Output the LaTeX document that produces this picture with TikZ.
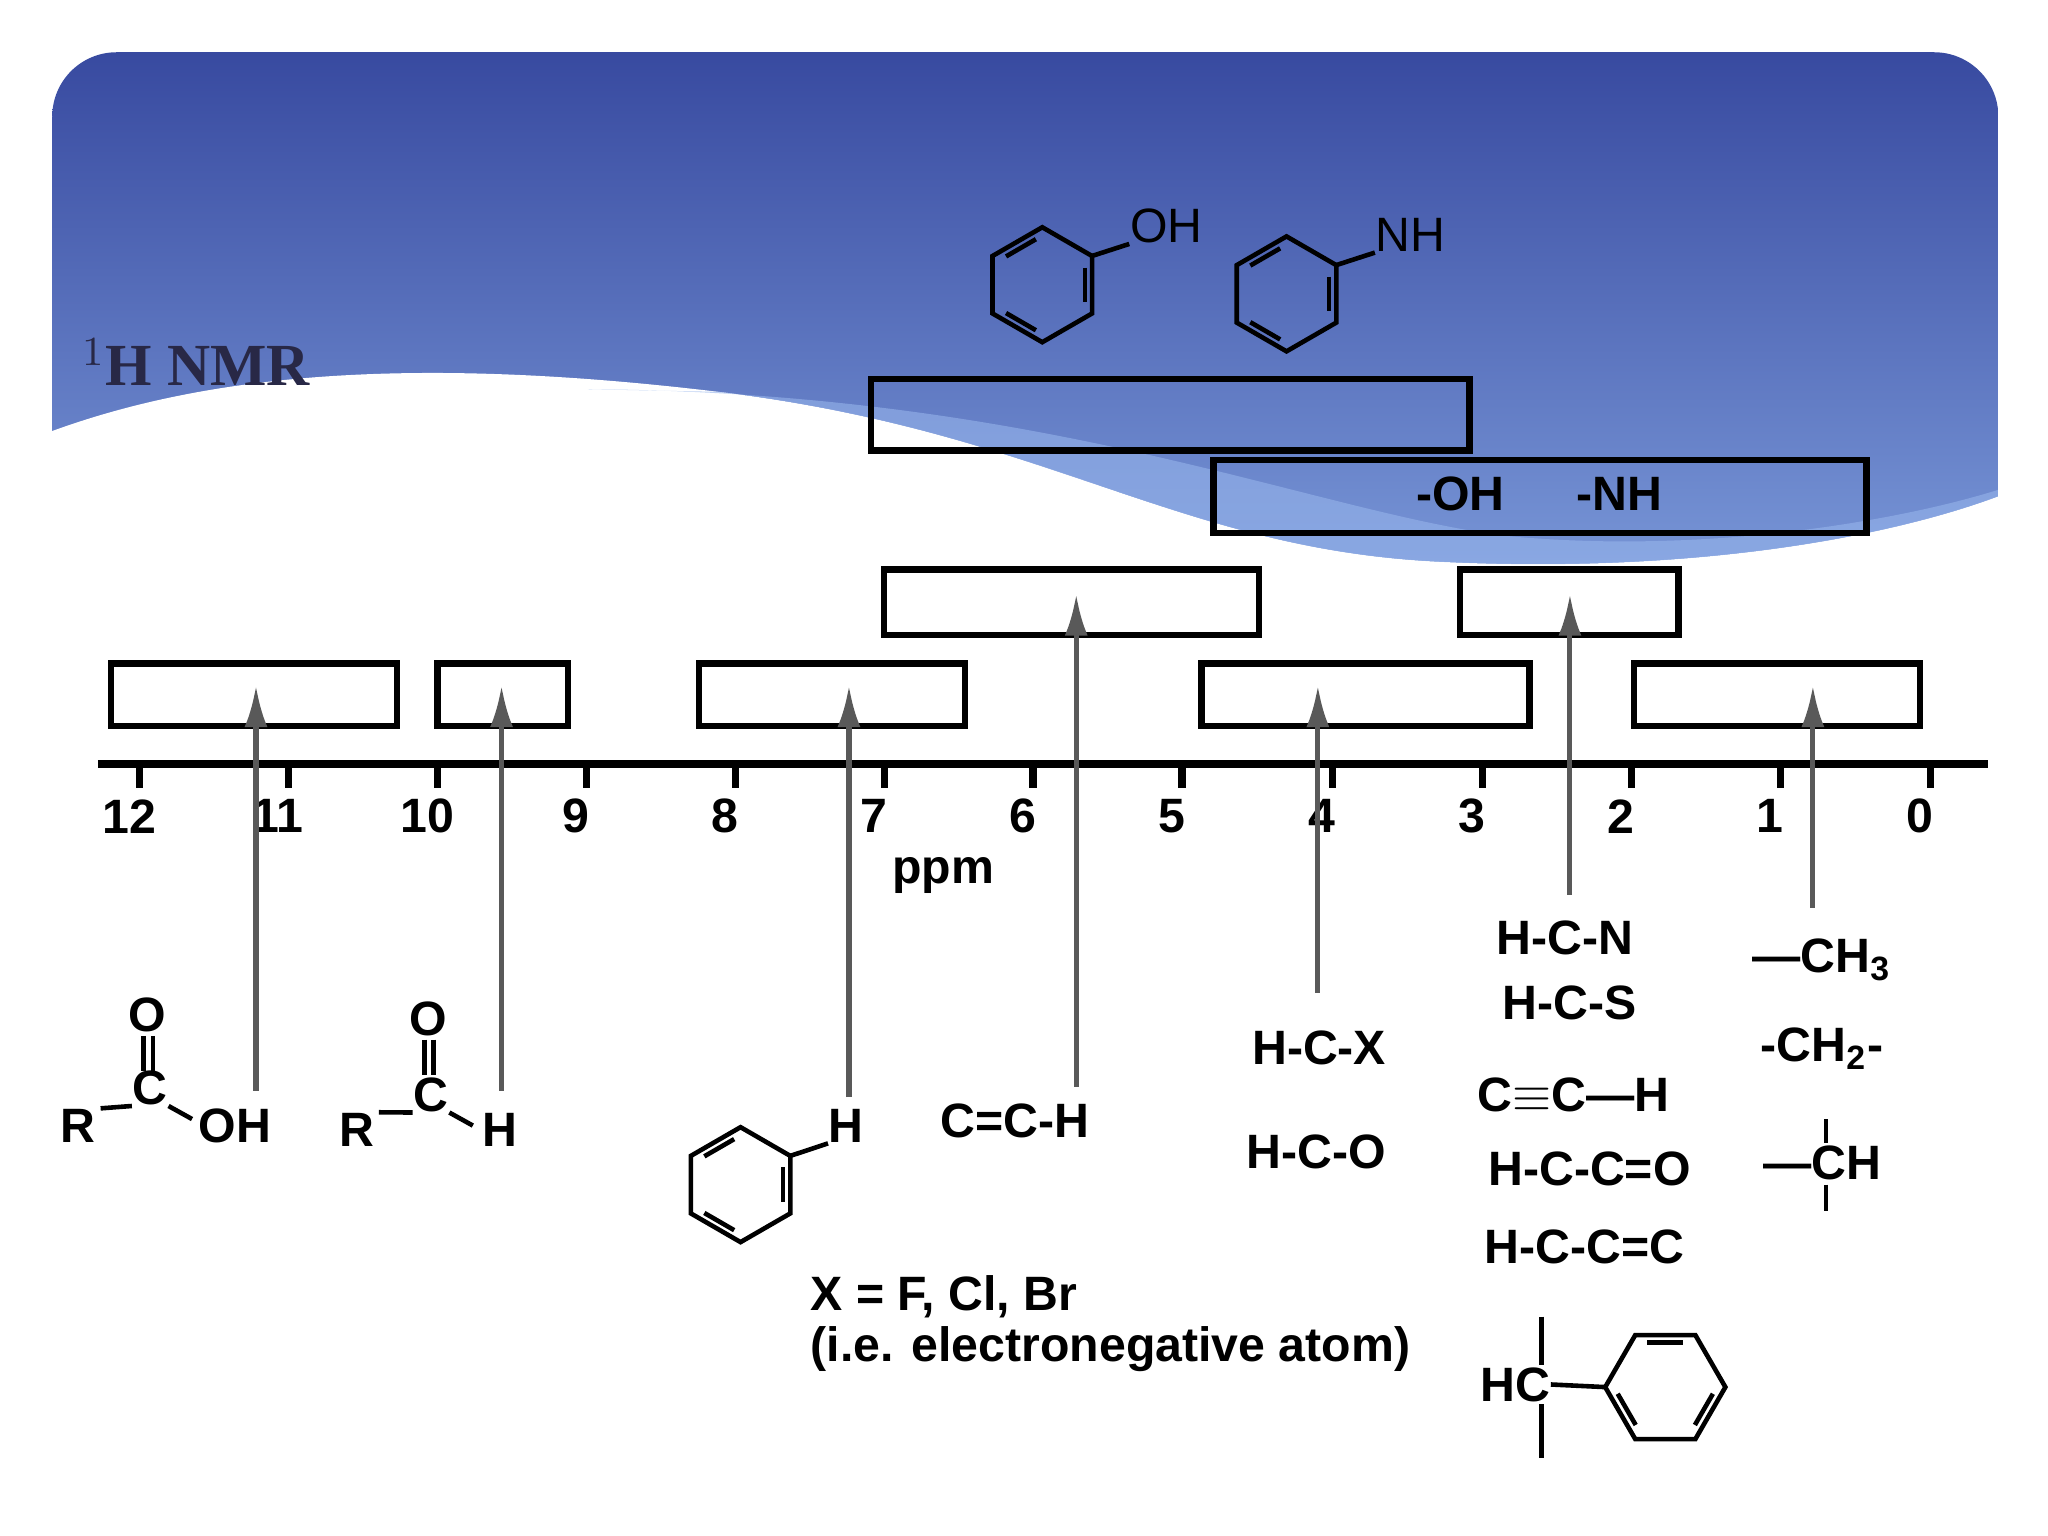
\documentclass[tikz,border=0pt]{standalone}
\usepackage{fontspec}
\setmainfont{Liberation Sans}
\newfontfamily\serifb{Liberation Serif}
\usetikzlibrary{arrows.meta}
\definecolor{bdark}{RGB}{56,74,160}
\definecolor{blight}{RGB}{120,150,215}
\definecolor{bwave}{RGB}{150,180,235}
\definecolor{titlec}{RGB}{40,40,70}
\begin{document}
\begin{tikzpicture}[x=0.01cm,y=-0.01cm,
  box/.style={draw=black,line width=1.4pt},
  arr/.style={draw=black!65,line width=1.1pt,-{Latex[length=9pt,width=5pt]}},
  lbl/.style={font=\bfseries\fontsize{10.5}{12}\selectfont,inner sep=0pt},
  bond/.style={line width=1pt}]
\newcommand\benz[4]{%
  \draw[bond] (#1,#2) +(#4:#3) -- +(#4+60:#3) -- +(#4+120:#3) -- +(#4+180:#3) -- +(#4+240:#3) -- +(#4+300:#3) -- cycle;
  \foreach \k in {0,120,240}{\draw[bond] (#1,#2) +({#4+\k+8}:{0.8*#3}) -- +({#4+\k+52}:{0.8*#3});}}
\useasboundingbox (0,0) rectangle (1568,1176);
\fill[white] (0,0) rectangle (1568,1176);
\begin{scope}
\clip[rounded corners=14] (40,40) rectangle (1530,1176);
\shade[top color=bdark,bottom color=blight] (40,40) rectangle (1530,440);
\fill[white] (40,330) .. controls (150,290) and (300,270) .. (550,300) .. controls (800,330) and (900,420) .. (1100,430) .. controls (1300,440) and (1450,410) .. (1530,380) -- (1530,1176) -- (40,1176) -- cycle;
\fill[bwave,opacity=0.6] (450,298) .. controls (800,300) and (1000,390) .. (1150,410) .. controls (1300,425) and (1450,400) .. (1530,375) -- (1530,380) .. controls (1450,410) and (1300,440) .. (1100,430) .. controls (900,420) and (800,330) .. (550,300) -- cycle;
\end{scope}
\node[inner sep=0pt,text=titlec] (title) at (150,277) {\serifb\bfseries\fontsize{13}{14}\selectfont $^1$H NMR};
% axis
\draw[line width=1.8pt] (75,585) -- (1522,585);
\foreach \v/\x in {12/107,11/221,10/335,9/449,8/563,7/677,6/791,5/905,4/1020,3/1135,2/1249,1/1363,0/1478}{
  \draw[line width=1.6pt] (\x,585) -- (\x,603);
  \node[lbl] (t\v) at (\x-8,625) {\v};}
\node[lbl] (ppm) at (722,670) {ppm};
% boxes
\draw[box] (85,508) rectangle (304,556);
\draw[box] (335,508) rectangle (435,556);
\draw[box] (535,508) rectangle (739,556);
\draw[box] (920,508) rectangle (1171,556);
\draw[box] (1251,508) rectangle (1470,556);
\draw[box] (677,436) rectangle (964,486);
\draw[box] (1118,436) rectangle (1285,486);
\draw[box] (667,290) rectangle (1125,345);
\draw[box] (929,352) rectangle (1429,408);
\node[lbl] (oh) at (1118,378) {-OH};
\node[lbl] (nh) at (1240,378) {-NH};
% arrows
\foreach \n/\x/\ya/\yb in {a/196/835/525,b/384/835/525,c/650/840/525,d/824/832/455,e/1009/760/525,f/1202/685/455,g/1388/695/525}{
  \coordinate (s\n) at (\x,\ya); \coordinate (e\n) at (\x,\yb);
  \draw[arr] (s\n) -- (e\n);}
% carboxylic acid
\node[lbl] (o1) at (113,777) {O};
\node[lbl] (c1) at (115,833) {C};
\node[lbl] (r1) at (60,862) {R};
\node[lbl] (oh1) at (180,862) {OH};
\draw[bond] (110,793) -- (110,820) (117,793) -- (117,820);
\draw[bond] (r1.north east) ++(3,0) -- (c1.south west);
\draw[bond] (c1.south east) -- ++(18,10);
% aldehyde
\node[lbl] (o2) at (328,780) {O};
\node[lbl] (c2) at (330,838) {C};
\node[lbl] (r2) at (273,865) {R};
\node[lbl] (h2) at (383,865) {H};
\draw[bond] (325,796) -- (325,823) (332,796) -- (332,823);
\draw[bond] (r2.north east) ++(3,0) -- (c2.south west);
\draw[bond] (c2.south east) -- ++(18,10);
% benzene H
\benz{567}{907}{44}{-30}
\node[lbl] (h3) at (648,862) {H};
\draw[bond] (605,885) -- (h3.south west);
\node[lbl] (cch) at (777,858) {C=C-H};
% top benzenes
\benz{798}{218}{44}{-30}
\node[lbl,font=\fontsize{10.5}{12}\selectfont] (ohb) at (893,173) {OH};
\draw[bond] (836,196) -- (ohb.south west);
\benz{985}{225}{44}{-30}
\node[lbl,font=\fontsize{10.5}{12}\selectfont] (nhb) at (1080,180) {NH};
\draw[bond] (1023,203) -- (nhb.south west);
% middle texts
\node[lbl] (hcx) at (1010,802) {H-C-X};
\node[lbl] (hco) at (1008,882) {H-C-O};
\node[lbl,anchor=west] (xf) at (620,993) {X = F, Cl, Br};
\node[lbl,anchor=west] (ie) at (620,1033) {(i.e. electronegative atom)};
% right column
\node[lbl] (hcn) at (1198,718) {H-C-N};
\node[lbl] (hcs) at (1202,768) {H-C-S};
\node[lbl] (cth) at (1205,838) {C$\equiv$C—H};
\node[lbl] (hcco) at (1217,895) {H-C-C=O};
\node[lbl] (hccc) at (1213,955) {H-C-C=C};
\node[lbl] (hc) at (1160,1060) {HC};
\draw[bond] (1180,1008) -- (1180,1045) (1180,1075) -- (1180,1116);
\benz{1275}{1062}{46}{0}
\draw[bond] (hc.east) -- (1229,1062);
\node[lbl] (ch3) at (1395,735) {—CH\textsubscript{3}};
\node[lbl] (ch2) at (1395,803) {-CH\textsubscript{2}-};
\node[lbl] (ch) at (1395,890) {—CH};
\draw[bond] (1398,857) -- (1398,875) (1398,907) -- (1398,927);
\end{tikzpicture}
\end{document}
